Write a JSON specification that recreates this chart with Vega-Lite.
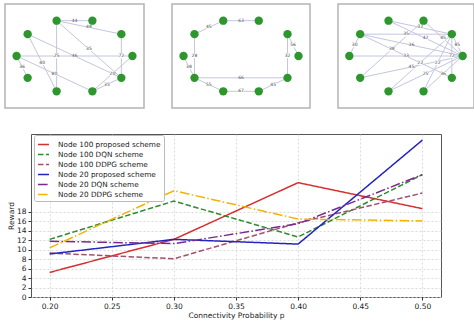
{
  "$schema": "https://vega.github.io/schema/vega-lite/v6.json",
  "padding": {"left": 4, "top": 3, "right": 0, "bottom": 0},
  "background": "white",
  "spacing": 24,
  "resolve": {"legend": {"color": "independent", "strokeDash": "independent"}},
  "config": {
    "font": "DejaVu Sans",
    "axis": {
      "labelFontSize": 7.5, "titleFontSize": 7.5, "labelColor": "#222", "titleColor": "#222",
      "titleFontWeight": "normal", "tickColor": "#333", "tickSize": 3, "domain": false,
      "grid": true, "gridColor": "#d2d2d2", "gridDash": [2, 2], "gridWidth": 0.8
    }
  },
  "datasets": {
    "nodes": [
      {"id": 0, "x": 1, "y": 0}, {"id": 1, "x": 0.809, "y": 0.588}, {"id": 2, "x": 0.309, "y": 0.951},
      {"id": 3, "x": -0.309, "y": 0.951}, {"id": 4, "x": -0.809, "y": 0.588}, {"id": 5, "x": -1, "y": 0},
      {"id": 6, "x": -0.809, "y": -0.588}, {"id": 7, "x": -0.309, "y": -0.951}, {"id": 8, "x": 0.309, "y": -0.951},
      {"id": 9, "x": 0.809, "y": -0.588}
    ],
    "edges": [
      {"g": 1, "x": -0.309, "y": 0.951, "x2": 0.309, "y2": 0.951, "mx": 0, "my": 0.951, "w": 44},
      {"g": 1, "x": -0.309, "y": 0.951, "x2": -0.309, "y2": -0.951, "mx": -0.309, "my": 0, "w": 25},
      {"g": 1, "x": -0.309, "y": 0.951, "x2": 0.809, "y2": 0.588, "mx": 0.25, "my": 0.77, "w": 48},
      {"g": 1, "x": -0.309, "y": 0.951, "x2": 0.809, "y2": -0.588, "mx": 0.25, "my": 0.182, "w": 35},
      {"g": 1, "x": -0.809, "y": 0.588, "x2": 0.809, "y2": -0.588, "mx": 0, "my": 0, "w": 46},
      {"g": 1, "x": -1, "y": 0, "x2": 1, "y2": 0},
      {"g": 1, "x": 0.809, "y": 0.588, "x2": 0.809, "y2": -0.588, "mx": 0.809, "my": 0, "w": 72},
      {"g": 1, "x": -0.809, "y": 0.588, "x2": -0.309, "y2": -0.951, "mx": -0.559, "my": -0.182, "w": 40},
      {"g": 1, "x": -1, "y": 0, "x2": 0.309, "y2": -0.951, "mx": -0.346, "my": -0.476, "w": 80},
      {"g": 1, "x": -1, "y": 0, "x2": -0.809, "y2": -0.588, "mx": -0.905, "my": -0.294, "w": 36},
      {"g": 1, "x": 1, "y": 0, "x2": 0.309, "y2": -0.951, "mx": 0.655, "my": -0.476, "w": 20},
      {"g": 1, "x": 0.809, "y": -0.588, "x2": 0.309, "y2": -0.951, "mx": 0.559, "my": -0.77, "w": 35},

      {"g": 2, "x": -0.309, "y": 0.951, "x2": 0.309, "y2": 0.951, "mx": 0, "my": 0.951, "w": 63},
      {"g": 2, "x": -0.809, "y": 0.588, "x2": -0.309, "y2": 0.951, "mx": -0.559, "my": 0.77, "w": 45},
      {"g": 2, "x": -0.809, "y": 0.588, "x2": -0.809, "y2": -0.588, "mx": -0.809, "my": 0, "w": 28},
      {"g": 2, "x": -1, "y": 0, "x2": -0.809, "y2": -0.588, "mx": -0.905, "my": -0.294, "w": 38},
      {"g": 2, "x": -0.809, "y": -0.588, "x2": 0.809, "y2": -0.588, "mx": 0, "my": -0.588, "w": 66},
      {"g": 2, "x": -0.809, "y": -0.588, "x2": -0.309, "y2": -0.951, "mx": -0.559, "my": -0.77, "w": 55},
      {"g": 2, "x": -0.309, "y": -0.951, "x2": 0.309, "y2": -0.951, "mx": 0, "my": -0.951, "w": 67},
      {"g": 2, "x": 0.309, "y": -0.951, "x2": 0.809, "y2": -0.588, "mx": 0.559, "my": -0.77, "w": 45},
      {"g": 2, "x": 0.809, "y": 0.588, "x2": 1, "y2": 0, "mx": 0.905, "my": 0.294, "w": 56},
      {"g": 2, "x": 0.809, "y": 0.588, "x2": 0.809, "y2": -0.588, "mx": 0.809, "my": 0, "w": 32},

      {"g": 3, "x": -0.809, "y": 0.588, "x2": -1, "y2": 0, "mx": -0.905, "my": 0.294, "w": 30},
      {"g": 3, "x": -0.809, "y": 0.588, "x2": 0.809, "y2": 0.588, "mx": 0, "my": 0.588, "w": 35},
      {"g": 3, "x": -0.809, "y": 0.588, "x2": 1, "y2": 0, "mx": 0.095, "my": 0.294, "w": 36},
      {"g": 3, "x": -1, "y": 0, "x2": 1, "y2": 0, "mx": 0, "my": 0, "w": 33},
      {"g": 3, "x": -0.809, "y": 0.588, "x2": 0.809, "y2": -0.588},
      {"g": 3, "x": -0.809, "y": -0.588, "x2": 0.309, "y2": 0.951, "mx": -0.25, "my": 0.182, "w": 38},
      {"g": 3, "x": -0.309, "y": 0.951, "x2": 0.809, "y2": 0.588, "mx": 0.25, "my": 0.77, "w": 32},
      {"g": 3, "x": -0.309, "y": 0.951, "x2": 1, "y2": 0, "mx": 0.345, "my": 0.476, "w": 42},
      {"g": 3, "x": 0.309, "y": 0.951, "x2": 1, "y2": 0, "mx": 0.655, "my": 0.476, "w": 45},
      {"g": 3, "x": 0.809, "y": 0.588, "x2": 1, "y2": 0, "mx": 0.905, "my": 0.294, "w": 85},
      {"g": 3, "x": 0.809, "y": 0.588, "x2": 0.809, "y2": -0.588, "mx": 0.809, "my": 0, "w": 72},
      {"g": 3, "x": -0.809, "y": -0.588, "x2": 1, "y2": 0, "mx": 0.095, "my": -0.294, "w": 45},
      {"g": 3, "x": -0.309, "y": -0.951, "x2": 0.809, "y2": 0.588, "mx": 0.25, "my": -0.182, "w": 22},
      {"g": 3, "x": 0.309, "y": -0.951, "x2": 0.809, "y2": 0.588, "mx": 0.559, "my": -0.182, "w": 22},
      {"g": 3, "x": -0.309, "y": -0.951, "x2": 1, "y2": 0, "mx": 0.345, "my": -0.476, "w": 25},
      {"g": 3, "x": 0.309, "y": -0.951, "x2": 1, "y2": 0, "mx": 0.655, "my": -0.476, "w": 36}
    ],
    "rewards": [
      {"series": "Node 100 proposed scheme", "p": 0.2, "reward": 5.2},
      {"series": "Node 100 proposed scheme", "p": 0.3, "reward": 12.2},
      {"series": "Node 100 proposed scheme", "p": 0.4, "reward": 24.2},
      {"series": "Node 100 proposed scheme", "p": 0.5, "reward": 18.7},
      {"series": "Node 100 DQN scheme", "p": 0.2, "reward": 12.2},
      {"series": "Node 100 DQN scheme", "p": 0.3, "reward": 20.3},
      {"series": "Node 100 DQN scheme", "p": 0.4, "reward": 12.7},
      {"series": "Node 100 DQN scheme", "p": 0.5, "reward": 25.9},
      {"series": "Node 100 DDPG scheme", "p": 0.2, "reward": 9.3},
      {"series": "Node 100 DDPG scheme", "p": 0.3, "reward": 8.1},
      {"series": "Node 100 DDPG scheme", "p": 0.4, "reward": 15.7},
      {"series": "Node 100 DDPG scheme", "p": 0.5, "reward": 22.0},
      {"series": "Node 20 proposed scheme", "p": 0.2, "reward": 9.1},
      {"series": "Node 20 proposed scheme", "p": 0.3, "reward": 12.2},
      {"series": "Node 20 proposed scheme", "p": 0.4, "reward": 11.2},
      {"series": "Node 20 proposed scheme", "p": 0.5, "reward": 33.2},
      {"series": "Node 20 DQN scheme", "p": 0.2, "reward": 11.8},
      {"series": "Node 20 DQN scheme", "p": 0.3, "reward": 11.3},
      {"series": "Node 20 DQN scheme", "p": 0.4, "reward": 15.5},
      {"series": "Node 20 DQN scheme", "p": 0.5, "reward": 25.9},
      {"series": "Node 20 DDPG scheme", "p": 0.2, "reward": 10.4},
      {"series": "Node 20 DDPG scheme", "p": 0.3, "reward": 22.5},
      {"series": "Node 20 DDPG scheme", "p": 0.4, "reward": 16.5},
      {"series": "Node 20 DDPG scheme", "p": 0.5, "reward": 16.1}
    ]
  },
  "vconcat": [
    {
      "spacing": 26,
      "hconcat": [
        {
          "width": 139, "height": 104,
          "view": {"stroke": "#b4b4b4", "strokeWidth": 1.5},
          "layer": [
            {"data": {"name": "edges"}, "transform": [{"filter": "datum.g == 1"}],
             "mark": {"type": "rule", "color": "#c3c6df", "strokeWidth": 1},
             "encoding": {"x": {"field": "x", "type": "quantitative", "scale": {"domain": [-1.2, 1.2]}, "axis": null},
                          "y": {"field": "y", "type": "quantitative", "scale": {"domain": [-1.22, 1.22]}, "axis": null},
                          "x2": {"field": "x2"}, "y2": {"field": "y2"}}},
            {"data": {"name": "edges"}, "transform": [{"filter": "datum.g == 1 && isValid(datum.w)"}],
             "mark": {"type": "square", "size": 22, "color": "white", "opacity": 1},
             "encoding": {"x": {"field": "mx", "type": "quantitative"}, "y": {"field": "my", "type": "quantitative"}}},
            {"data": {"name": "edges"}, "transform": [{"filter": "datum.g == 1 && isValid(datum.w)"}],
             "mark": {"type": "text", "fontSize": 4.5, "color": "#444"},
             "encoding": {"x": {"field": "mx", "type": "quantitative"}, "y": {"field": "my", "type": "quantitative"}, "text": {"field": "w"}}},
            {"data": {"name": "nodes"},
             "mark": {"type": "circle", "size": 70, "color": "#2d962d", "opacity": 1},
             "encoding": {"x": {"field": "x", "type": "quantitative"}, "y": {"field": "y", "type": "quantitative"}}}
          ]
        },
        {
          "width": 138, "height": 104,
          "view": {"stroke": "#b4b4b4", "strokeWidth": 1.5},
          "layer": [
            {"data": {"name": "edges"}, "transform": [{"filter": "datum.g == 2"}],
             "mark": {"type": "rule", "color": "#c3c6df", "strokeWidth": 1},
             "encoding": {"x": {"field": "x", "type": "quantitative", "scale": {"domain": [-1.2, 1.2]}, "axis": null},
                          "y": {"field": "y", "type": "quantitative", "scale": {"domain": [-1.22, 1.22]}, "axis": null},
                          "x2": {"field": "x2"}, "y2": {"field": "y2"}}},
            {"data": {"name": "edges"}, "transform": [{"filter": "datum.g == 2 && isValid(datum.w)"}],
             "mark": {"type": "square", "size": 22, "color": "white", "opacity": 1},
             "encoding": {"x": {"field": "mx", "type": "quantitative"}, "y": {"field": "my", "type": "quantitative"}}},
            {"data": {"name": "edges"}, "transform": [{"filter": "datum.g == 2 && isValid(datum.w)"}],
             "mark": {"type": "text", "fontSize": 4.5, "color": "#444"},
             "encoding": {"x": {"field": "mx", "type": "quantitative"}, "y": {"field": "my", "type": "quantitative"}, "text": {"field": "w"}}},
            {"data": {"name": "nodes"},
             "mark": {"type": "circle", "size": 70, "color": "#2d962d", "opacity": 1},
             "encoding": {"x": {"field": "x", "type": "quantitative"}, "y": {"field": "y", "type": "quantitative"}}}
          ]
        },
        {
          "width": 136, "height": 104,
          "view": {"stroke": "#b4b4b4", "strokeWidth": 1.5},
          "layer": [
            {"data": {"name": "edges"}, "transform": [{"filter": "datum.g == 3"}],
             "mark": {"type": "rule", "color": "#c3c6df", "strokeWidth": 1},
             "encoding": {"x": {"field": "x", "type": "quantitative", "scale": {"domain": [-1.2, 1.2]}, "axis": null},
                          "y": {"field": "y", "type": "quantitative", "scale": {"domain": [-1.22, 1.22]}, "axis": null},
                          "x2": {"field": "x2"}, "y2": {"field": "y2"}}},
            {"data": {"name": "edges"}, "transform": [{"filter": "datum.g == 3 && isValid(datum.w)"}],
             "mark": {"type": "square", "size": 22, "color": "white", "opacity": 1},
             "encoding": {"x": {"field": "mx", "type": "quantitative"}, "y": {"field": "my", "type": "quantitative"}}},
            {"data": {"name": "edges"}, "transform": [{"filter": "datum.g == 3 && isValid(datum.w)"}],
             "mark": {"type": "text", "fontSize": 4.5, "color": "#444"},
             "encoding": {"x": {"field": "mx", "type": "quantitative"}, "y": {"field": "my", "type": "quantitative"}, "text": {"field": "w"}}},
            {"data": {"name": "nodes"},
             "mark": {"type": "circle", "size": 70, "color": "#2d962d", "opacity": 1},
             "encoding": {"x": {"field": "x", "type": "quantitative"}, "y": {"field": "y", "type": "quantitative"}}}
          ]
        }
      ]
    },
    {
      "spacing": 0,
      "resolve": {"legend": {"color": "independent", "strokeDash": "independent"}},
      "hconcat": [
        {
          "width": 1, "height": 1,
          "data": {"values": [{}]},
          "view": {"stroke": null},
          "mark": {"type": "point", "opacity": 0, "size": 0}
        },
        {
          "width": 410, "height": 163,
          "data": {"name": "rewards"},
          "view": {"stroke": "#555", "strokeWidth": 1},
          "mark": {"type": "line", "strokeWidth": 1.5},
          "encoding": {
            "x": {"field": "p", "type": "quantitative",
                  "scale": {"domain": [0.185, 0.515], "nice": false, "zero": false},
                  "axis": {"values": [0.2, 0.25, 0.3, 0.35, 0.4, 0.45, 0.5], "format": ".2f", "title": "Connectivity Probability p", "labelPadding": 2, "titlePadding": 2}},
            "y": {"field": "reward", "type": "quantitative",
                  "scale": {"domain": [0, 34.5], "nice": false},
                  "axis": {"values": [0, 2, 4, 6, 8, 10, 12, 14, 16, 18], "title": "Reward", "labelPadding": 2, "titlePadding": 1}},
            "color": {"field": "series", "type": "nominal",
                      "scale": {"domain": ["Node 100 proposed scheme", "Node 100 DQN scheme", "Node 100 DDPG scheme", "Node 20 proposed scheme", "Node 20 DQN scheme", "Node 20 DDPG scheme"],
                                "range": ["#d62f2f", "#2e8b2e", "#a0506e", "#2424c0", "#7a2a8c", "#f2b400"]},
                      "legend": {"title": null, "orient": "none", "legendX": 3, "legendY": 1, "symbolType": "stroke", "symbolSize": 121, "symbolStrokeWidth": 1.5, "labelFontSize": 7.3, "labelOffset": 8, "rowPadding": 0, "padding": 3, "fillColor": "#ffffff", "strokeColor": "#bbbbbb", "cornerRadius": 2, "labelColor": "#222"}},
            "strokeDash": {"field": "series", "type": "nominal",
                      "scale": {"domain": ["Node 100 proposed scheme", "Node 100 DQN scheme", "Node 100 DDPG scheme", "Node 20 proposed scheme", "Node 20 DQN scheme", "Node 20 DDPG scheme"],
                                "range": [[1, 0], [5.5, 2.4], [5.5, 2.4], [1, 0], [9.6, 2.4, 1.5, 2.4], [9.6, 2.4, 1.5, 2.4]]},
                      "legend": {"title": null, "orient": "none", "legendX": 3, "legendY": 1, "symbolType": "stroke", "symbolSize": 121, "symbolStrokeWidth": 1.5, "labelFontSize": 7.3, "labelOffset": 8, "rowPadding": 0, "padding": 3, "fillColor": "#ffffff", "strokeColor": "#bbbbbb", "cornerRadius": 2, "labelColor": "#222"}}
          }
        }
      ]
    }
  ]
}
